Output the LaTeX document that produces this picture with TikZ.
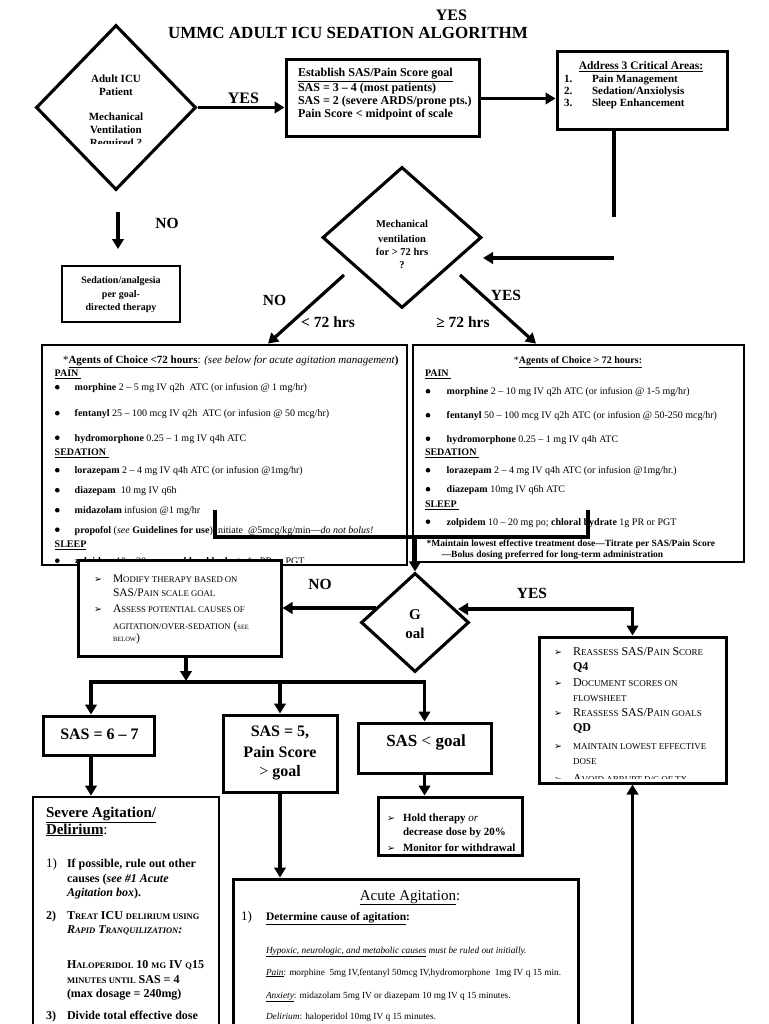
\documentclass[tikz,border=0pt]{standalone}
\usepackage{fontspec}
\setmainfont{Liberation Serif}
\newfontfamily\djv{DejaVu Sans}
\usetikzlibrary{arrows.meta,shapes.geometric}
\newcommand\fsz[1]{\fontsize{#1}{#1}\selectfont}
\newcommand\sscs{8.7}
\newcommand\ssc[1]{{\fontsize{\sscs}{\sscs}\selectfont #1}}
\newcommand\arb{{\djv\fontsize{9.5}{9.5}\selectfont ➢}}
\newcommand\bitem[5]{\fill (#2,#4-3.3) circle[radius=2.3pt]; \node[tx] (#1) at (#3,#4) {#5};}
\begin{document}
\begin{tikzpicture}[x=1pt,y=-1pt,
  tx/.style={anchor=base west,inner sep=0pt,outer sep=0pt},
  tc/.style={anchor=base,inner sep=0pt,outer sep=0pt},
  box/.style={draw,line width=3pt,inner sep=0pt,fill=white},
  dia/.style={diamond,draw,line width=3.1pt,inner sep=0pt},
  ln/.style={line width=3.2pt},
  arr/.style={line width=3.2pt,-{Triangle[length=10pt,width=11.5pt]}},
  arrb/.style={line width=3.2pt,{Triangle[length=10pt,width=11.5pt]}-{Triangle[length=10pt,width=11.5pt]}},
  lbl/.style={tc,font=\bfseries\fsz{15.5}}]
\useasboundingbox (0,0) rectangle (768,1024);
\fill[white] (0,0) rectangle (768,1024);
\clip (0,0) rectangle (768,1024);

% ---------- title
\node[tc,font=\bfseries\fsz{16}] (tyes) at (451.5,20.5) {YES};
\node[tc,font=\bfseries\fsz{17}] (title) at (348,38.3) {UMMC ADULT ICU SEDATION ALGORITHM};

% ---------- first decision
\node[dia,minimum width=160pt,minimum height=165pt] (d1) at (116,107.5) {};
\begin{scope}
\clip (30,60) rectangle (200,144);
\begin{scope}[font=\bfseries\fsz{11}]
\node[tc] (d1a) at (116,83) {Adult ICU};
\node[tc] (d1b) at (116,95.7) {Patient};
\node[tc] (d1c) at (116,121) {Mechanical};
\node[tc] (d1d) at (116,133.7) {Ventilation};
\node[tc] (d1e) at (116,146.4) {Required ?};
\end{scope}
\end{scope}

% ---------- establish goal box
\node[box,minimum width=193pt,minimum height=77pt] (est) at (382.5,98.5) {};
\begin{scope}[font=\bfseries\fsz{12}]
\node[tx] (e1) at (298,77) {\underline{Establish SAS/Pain Score goal}};
\node[tx] (e2) at (298,92) {SAS = 3 – 4 (most patients)};
\node[tx] (e3) at (298,105) {SAS = 2 (severe ARDS/prone pts.)};
\node[tx] (e4) at (298,118) {Pain Score < midpoint of scale};
\end{scope}
\draw[arr] (d1.east) -- (d1.east -| est.west);
\node[lbl,font=\bfseries\fsz{16}] (lyes1) at (243.5,103.5) {YES};

% ---------- address box
\node[box,minimum width=170pt,minimum height=78pt] (addr) at (642,91) {};
\begin{scope}[font=\bfseries\fsz{11}]
\node[tc,font=\bfseries\fsz{11.5}] (a0) at (641,70) {\underline{Address 3 Critical Areas:}};
\node[tx] (a1n) at (564,83) {1.};
\node[tx] (a1) at (592,83) {Pain Management};
\node[tx] (a2n) at (564,95) {2.};
\node[tx] (a2) at (592,95) {Sedation/Anxiolysis};
\node[tx] (a3n) at (564,107) {3.};
\node[tx] (a3) at (592,107) {Sleep Enhancement};
\end{scope}
\draw[arr] (est.east) -- (est.east -| addr.west);

% ---------- to second decision
\coordinate (v1) at (614,217);
\draw[ln] (addr.south -| v1) -- (v1);
\coordinate (h1) at (614,258);
\coordinate (h1e) at (483,258);
\draw[arr] (h1) -- (h1e);

\node[dia,minimum width=159pt,minimum height=141pt] (d2) at (402,237.5) {};
\begin{scope}[font=\bfseries\fsz{10.5}]
\node[tc] (d2a) at (402,228) {Mechanical};
\node[tc] (d2b) at (402,242) {ventilation};
\node[tc] (d2c) at (402,255) {for > 72 hrs};
\node[tc] (d2d) at (402,268) {?};
\end{scope}

% ---------- NO branch of first decision
\coordinate (n1s) at (118,212);
\coordinate (n1e) at (118,249);
\draw[arr] (n1s) -- (n1e);
\node[lbl] (lno1) at (167,229) {NO};
\node[box,line width=2.3pt,minimum width=118pt,minimum height=56pt] (sed) at (121,294) {};
\begin{scope}[font=\bfseries\fsz{10}]
\node[tc] (s1) at (121,283) {Sedation/analgesia};
\node[tc] (s2) at (121,297) {per goal-};
\node[tc] (s3) at (121,310) {directed therapy};
\end{scope}

% ---------- agents boxes
\node[box,line width=2.8pt,minimum width=365pt,minimum height=220pt] (lbox) at (224.5,455) {};
\node[box,line width=2.8pt,minimum width=331pt,minimum height=217pt] (rbox) at (578.5,453.5) {};

\coordinate (dl) at (344,275);
\coordinate (dr) at (460,275);
\coordinate (xl) at (268,0);
\coordinate (xr) at (536,0);
\draw[arr] (dl) -- (xl |- lbox.north);
\draw[arr] (dr) -- (xr |- rbox.north);
\node[lbl] (lno2) at (274.5,305) {NO};
\node[lbl] (llt) at (328,327) {< 72 hrs};
\node[lbl] (lyes2) at (506,300) {YES};
\node[lbl] (lge) at (463,327) {≥ 72 hrs};

\begin{scope}[font=\fsz{10}]
\node[tx,font=\fsz{11}] (l0) at (63,363.5) {*\textbf{\underline{Agents of Choice <72 hours}}: \textit{(see below for acute agitation management}\textbf{)}};
\node[tx] (l1) at (54.7,376.5) {\textbf{\underline{PAIN\ }}};
\bitem{l2}{57.3}{74.7}{390.5}{\textbf{morphine} 2 – 5 mg IV q2h\ \ ATC (or infusion @ 1 mg/hr)}
\bitem{l3}{57.3}{74.7}{416.5}{\textbf{fentanyl} 25 – 100 mcg IV q2h\ \ ATC (or infusion @ 50 mcg/hr)}
\bitem{l4}{57.3}{74.7}{441}{\textbf{hydromorphone} 0.25 – 1 mg IV q4h ATC}
\node[tx] (l5) at (54.7,455.5) {\textbf{\underline{SEDATION\ }}};
\bitem{l6}{57.3}{74.7}{473.5}{\textbf{lorazepam} 2 – 4 mg IV q4h ATC (or infusion @1mg/hr)}
\bitem{l7}{57.3}{74.7}{493.5}{\textbf{diazepam}\ \ 10 mg IV q6h}
\bitem{l8}{57.3}{74.7}{513.5}{\textbf{midazolam} infusion @1 mg/hr}
\bitem{l9}{57.3}{74.7}{533}{\textbf{propofol} (\textit{see} \textbf{Guidelines for use}) initiate\ \ @5mcg/kg/min—\textit{do not bolus!}}
\node[tx] (l10) at (54.7,547.5) {\textbf{\underline{SLEEP}}};
\begin{scope}
\clip (44,540) rectangle (405,562);
\bitem{l11}{57.3}{74.7}{564}{\textbf{zolpidem} 10 – 20 mg po; \textbf{chloral hydrate} 1g PR or PGT}
\end{scope}

\node[tc] (r0) at (578,363.5) {*\textbf{\underline{Agents of Choice > 72 hours:}}};
\node[tx] (r1) at (425,376.5) {\textbf{\underline{PAIN\ }}};
\bitem{r2}{428}{446.7}{394.5}{\textbf{morphine} 2 – 10 mg IV q2h ATC (or infusion @ 1-5 mg/hr)}
\bitem{r3}{428}{446.7}{418.5}{\textbf{fentanyl} 50 – 100 mcg IV q2h ATC (or infusion @ 50-250 mcg/hr)}
\bitem{r4}{428}{446.7}{442}{\textbf{hydromorphone} 0.25 – 1 mg IV q4h ATC}
\node[tx] (r5) at (425,455.5) {\textbf{\underline{SEDATION\ }}};
\bitem{r6}{428}{446.7}{473.5}{\textbf{lorazepam} 2 – 4 mg IV q4h ATC (or infusion @1mg/hr.)}
\bitem{r7}{428}{446.7}{492.5}{\textbf{diazepam} 10mg IV q6h ATC}
\node[tx] (r8) at (425,507.5) {\textbf{\underline{SLEEP\ }}};
\bitem{r9}{428}{446.7}{525}{\textbf{zolpidem} 10 – 20 mg po; \textbf{chloral hydrate} 1g PR or PGT}
\node[tx,font=\bfseries\fsz{9.5}] (r10) at (426.7,546) {*Maintain lowest effective treatment dose—Titrate per SAS/Pain Score};
\node[tx,font=\bfseries\fsz{9.5}] (r11) at (441.7,557.5) {—Bolus dosing preferred for long-term administration};
\end{scope}

% ---------- bracket and goal decision
\coordinate (bl) at (215,510);
\coordinate (br) at (588,510);
\coordinate (bj) at (415,537);
\draw[ln] (bl) |- (bj) -| (br);
\node[dia,minimum width=108pt,minimum height=99pt] (goal) at (415,622.5) {};
\draw[arr] (bj) -- (goal.north);
\node[tc,font=\bfseries\fsz{15}] (g1) at (415,619) {G};
\node[tc,font=\bfseries\fsz{15}] (g2) at (415,638) {oal};

% ---------- modify box
\node[box,minimum width=203pt,minimum height=96pt] (mod) at (179.5,608) {};
\begin{scope}[font=\fsz{11.5}]
\def\sscs{8.7}
\node[tx] (m1a) at (94,582) {\arb};
\node[tx] (m1) at (113,582) {M\ssc{ODIFY THERAPY BASED ON}};
\node[tx] (m2) at (113,596) {SAS/P\ssc{AIN SCALE GOAL}};
\node[tx] (m3a) at (94,612) {\arb};
\node[tx] (m3) at (113,612) {A\ssc{SSESS POTENTIAL CAUSES OF}};
\node[tx] (m4) at (113,629) {\ssc{AGITATION/OVER-SEDATION} ({\fsz{6.5}SEE}};
\node[tx] (m5) at (113,641) {{\fsz{6.5}BELOW})};
\end{scope}
\coordinate (gw) at (376,608);
\draw[arr] (gw) -- (gw -| mod.east);
\node[lbl] (lno3) at (320,589) {NO};

% ---------- reassess box
\node[box,minimum width=187pt,minimum height=146pt] (reas) at (632.5,710) {};
\coordinate (ge) at (458,609);
\draw[arrb] (ge) -| (reas.north);
\node[lbl] (lyes3) at (532,598) {YES};
\begin{scope}[font=\fsz{12}]
\def\sscs{9}
\node[tx] (rs1a) at (554,655) {\arb};
\node[tx] (rs1) at (573,655) {R\ssc{EASSESS} SAS/P\ssc{AIN} S\ssc{CORE}};
\node[tx] (rs2) at (573,670) {\textbf{Q4}};
\node[tx] (rs3a) at (554,686) {\arb};
\node[tx] (rs3) at (573,686) {D\ssc{OCUMENT SCORES ON}};
\node[tx] (rs4) at (573,701) {\ssc{FLOWSHEET}};
\node[tx] (rs5a) at (554,716) {\arb};
\node[tx] (rs5) at (573,716) {R\ssc{EASSESS} SAS/P\ssc{AIN GOALS}};
\node[tx] (rs6) at (573,731) {\textbf{QD}};
\node[tx] (rs7a) at (554,749) {\arb};
\node[tx] (rs7) at (573,749) {\ssc{MAINTAIN LOWEST EFFECTIVE}};
\node[tx] (rs8) at (573,764) {\ssc{DOSE}};
\begin{scope}
\clip (545,760) rectangle (722,778);
\node[tx] (rs9a) at (554,782) {\arb};
\node[tx] (rs9) at (573,782) {A\ssc{VOID ABRUPT D/C OF TX}};
\end{scope}
\end{scope}
\coordinate (rb) at (632.5,1030);
\draw[arr] (rb) -- (reas.south);

% ---------- distribution
\node[box,minimum width=111pt,minimum height=39pt] (s67) at (98.5,735.5) {};
\node[box,minimum width=114pt,minimum height=77pt] (s5) at (280,753.5) {};
\node[box,minimum width=133pt,minimum height=50pt] (sless) at (424.5,748) {};
\coordinate (mj) at (186,681);
\coordinate (hy) at (0,682);
\coordinate (a91) at (91,0);
\draw[arr] (mod.south -| mj) -- (mj);
\draw[ln,line cap=rect] (a91 |- hy) -- (sless.north |- hy);
\draw[arr] (a91 |- hy) -- (a91 |- s67.north);
\draw[arr] (s5.north |- hy) -- (s5.north);
\draw[arr] (sless.north |- hy) -- (sless.north);

\node[tc,font=\bfseries\fsz{16}] (t67) at (99.5,739.5) {SAS = 6 – 7};
\begin{scope}[font=\bfseries\fsz{16}]
\node[tc] (t5a) at (280,736) {SAS = 5,};
\node[tc] (t5b) at (280,757) {Pain Score};
\node[tc] (t5c) at (280,776) {{\mdseries >} goal};
\end{scope}
\node[tc,font=\bfseries\fsz{17}] (tless) at (426,746) {SAS {\mdseries <} goal};

% ---------- hold box
\node[box,minimum width=144pt,minimum height=58pt] (hold) at (450,826) {};
\draw[arr] (sless.south) -- (sless.south |- hold.north);
\begin{scope}[font=\bfseries\fsz{11}]
\node[tx] (ho1a) at (387,821) {\arb};
\node[tx] (ho1) at (403,821) {Hold therapy \textmd{\textit{or}}};
\node[tx] (ho2) at (403,835.5) {decrease dose by 20\%};
\begin{scope}
\clip (380,840) rectangle (520,853);
\node[tx] (ho3a) at (387,851) {\arb};
\node[tx] (ho3) at (403,851) {Monitor for withdrawal};
\end{scope}
\end{scope}

% ---------- severe agitation box
\node[box,line width=2.8pt,minimum width=186pt,minimum height=243pt] (sev) at (126,918.5) {};
\draw[arr] (a91 |- s67.south) -- (a91 |- sev.north);
\begin{scope}[font=\bfseries\fsz{12}]
\def\sscs{8.5}
\node[tx,font=\bfseries\fsz{15}] (sv1) at (46,817) {\underline{Severe Agitation/}};
\node[tx,font=\bfseries\fsz{15}] (sv2) at (46,834) {\underline{Delirium}\textmd{:}};
\node[tx,font=\mdseries\fsz{13}] (sv3n) at (46,867) {1)};
\node[tx] (sv3) at (67,867) {If possible, rule out other};
\node[tx] (sv4) at (67,882) {causes (\textit{see \#1 Acute}};
\node[tx] (sv5) at (67,896.5) {\textit{Agitation box}).};
\node[tx] (sv6n) at (46,919) {2)};
\node[tx] (sv6) at (67,919) {T\ssc{REAT} ICU \ssc{DELIRIUM USING}};
\node[tx] (sv7) at (67,933) {\textit{R\ssc{APID} T\ssc{RANQUILIZATION}:}};
\node[tx] (sv8) at (67,968) {H\ssc{ALOPERIDOL} 10 \ssc{MG} IV \ssc{Q}15};
\node[tx] (sv9) at (67,983) {\ssc{MINUTES UNTIL} SAS = 4};
\node[tx] (sv10) at (67,997) {(max dosage = 240mg)};
\node[tx] (sv11n) at (46,1019.5) {3)};
\node[tx] (sv11) at (67,1019.5) {Divide total effective dose};
\end{scope}

% ---------- acute agitation box
\node[box,minimum width=345pt,minimum height=161pt] (acute) at (405.5,959.5) {};
\draw[arr] (s5.south) -- (s5.south |- acute.north);
\node[tc,font=\fsz{15}] (ac0) at (410,900) {\underline{Acute Agitation}:};
\node[tx,font=\fsz{13}] (ac1n) at (241,920) {1)};
\node[tx,font=\bfseries\fsz{11.5}] (ac1) at (266,920) {\underline{Determine cause of agitation}:};
\begin{scope}[font=\fsz{9.3}]
\node[tx] (ac2) at (266,953) {\textit{\underline{Hypoxic, neurologic, and metabolic causes} must be ruled out initially.}};
\node[tx] (ac3) at (266,975) {\textit{\underline{Pain}}: morphine\ \ 5mg IV,fentanyl 50mcg IV,hydromorphone\ \ 1mg IV q 15 min.};
\node[tx] (ac4) at (266,998) {\textit{\underline{Anxiety}}: midazolam 5mg IV or diazepam 10 mg IV q 15 minutes.};
\node[tx] (ac5) at (266,1019.5) {\textit{Delirium}: haloperidol 10mg IV q 15 minutes.};
\end{scope}
\end{tikzpicture}
\end{document}
